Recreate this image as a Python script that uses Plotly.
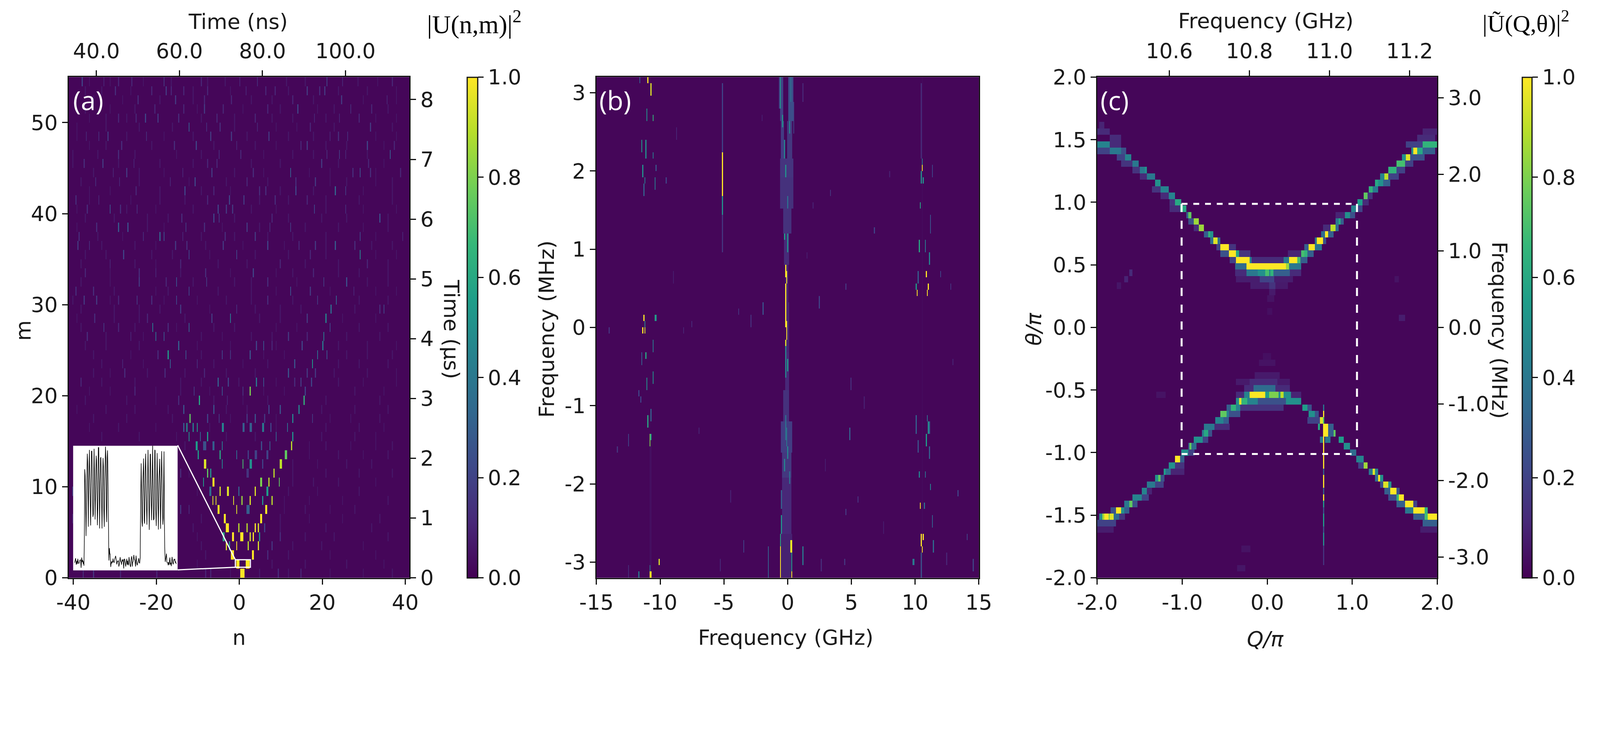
import numpy as np
import plotly.graph_objects as go

W, H = 5990, 1900

# ---- panel (a): |U(n,m)|^2 -- (row m, n from, n to, value)
a_peaks = [
    (0,.37,1.2,1),(1,-.86,.12,1),(1,1.44,2.5,1),(2,-1.9,-1.15,1),(2,2.9,3.5,1),
    (3,-3.2,-3,.95),(3,-2.4,-2.2,.5),(3,-.86,-.45,1),(3,1.93,2.3,.9),(3,4.5,4.7,.95),
    (4,-3.9,-3.4,.6),(4,-1.7,-1.15,1),(4,.37,.9,1),(4,2.46,2.67,.95),(4,3.2,3.45,1),(4,4.8,5,.5),
    (5,-3.2,-2.5,1),(5,-.2,.12,.9),(5,1.7,2.1,.9),(5,3.8,4,1),(5,4.5,4.7,.95),(5,6,6.3,.2),
    (6,-3.7,-3.2,1),(6,5,5.5,1),
    (7,-5.3,-4.7,1),(7,-.86,-.5,.95),(7,1.7,2.4,.3),(7,6.3,6.8,1),
    (8,-6.6,-6.3,.95),(8,-5.75,-5.5,.95),(8,-1.44,-1.2,.95),(8,.4,.86,.85),(8,2.46,2.67,.95),
    (8,5.5,5.75,.5),(8,7.7,8.1,.9),
    (9,-7.3,-6.8,.35),(9,-4.7,-4.5,.95),(9,-3,-2.6,.95),(9,3.8,4.07,.95),(9,6.6,7.07,.55),(9,-.1,.1,.3),
    (10,-8.8,-8.5,.55),(10,-6.5,-6,1),(10,5,5.4,.8),(10,7.07,7.3,.9),(10,9.45,9.8,.75),
    (11,-7.77,-7.56,.75),(11,-7,-6.8,.5),(11,8.3,8.6,.9),(11,1.7,2.2,.15),
    (12,-8.5,-8,.95),(12,-4.15,-3.9,.45),(12,.7,.9,.7),(12,2.55,3,.5),(12,9.66,10.15,.9),(12,5.5,5.7,.2),
    (13,-10,-9.66,.55),(13,-4.7,-4.5,.6),(13,11.1,11.4,.75),(13,-.8,-.6,.35),(13,1.9,2.3,.2),(13,3.8,4.3,.2),(13,6.5,7,.2),
    (14,-10.6,-10,.55),(14,-8.7,-8,.25),(14,-6.5,-5.9,.3),(14,-4.2,-4,.4),(14,5.4,5.6,.25),(14,7.2,7.4,.3),(14,12.4,12.7,.9),
    (15,-12.1,-11.9,.5),(15,-9.4,-9.2,.3),(15,-7.75,-7.6,.55),(15,8.7,8.9,.3),(15,12.75,12.95,.5),
    (16,-13.5,-13.2,.3),(16,-12.65,-12.45,.5),(16,-11.1,-10.9,.45),(16,-10.3,-10.15,.55),
    (16,-4.2,-3.8,.45),(16,.7,1.3,.3),(16,2.55,2.9,.3),(16,5.5,5.9,.4),(16,7.5,7.7,.2),(16,11.5,11.8,.35),
]
a_flecks = [
    (54,-37.9,.2),(54,-32.6,.1),(54,-29.2,.1),(54,-25.8,.1),(54,-18.2,.16),(54,-9.1,.1),(54,.1,.1),(54,4.4,.12),(54,21.2,.2),(54,24.9,.1),(54,36.9,.1),
    (53,-29.8,.12),(53,-21.1,.1),(53,-17.7,.16),(53,-16.4,.1),(53,-13.4,.1),(53,-7.5,.1),(53,1.6,.1),(53,6.3,.1),(53,8.7,.1),(53,16.5,.16),(53,19.4,.12),(53,20.7,.16),
    (52,-24.3,.12),(52,-15.4,.16),(52,-8.3,.1),(52,-1.8,.1),(52,12.9,.1),(52,24.6,.16),(52,35.6,.1),
    (51,-20.3,.1),(51,-13.3,.1),(51,-8.3,.16),(51,-3.9,.1),(51,6.9,.1),(51,14.2,.2),(51,27,.12),(51,32,.1),
    (50,-29,.1),(50,-24.8,.1),(50,-22.6,.2),(50,-19.6,.16),(50,-14.7,.12),(50,-5.4,.1),(50,4,.1),(50,18.1,.1),(50,24.1,.1),(50,28.8,.1),
    (49,-12.2,.28),(49,-7.9,.12),(49,-4.7,.12),(49,31.7,.16),(49,4.5,.1),(49,17.1,.1),
    (48,-36.8,.1),(48,-33.8,.12),(48,-31.5,.16),(48,-22.4,.12),(48,-6.8,.16),(48,-1.9,.16),(48,7.2,.16),(48,22,.1),(48,23.9,.12),(48,26.1,.12),
    (47,-28.4,.12),(47,-15.6,.12),(47,-10.3,.2),(47,-.5,.1),(47,15,.1),(47,16.5,.16),(47,30.9,.2),(47,37.5,.1),
    (46,-29.2,.12),(46,-4.9,.12),(46,.3,.1),(46,21.2,.12),(46,24.1,.16),(46,25.7,.1),(46,36.3,.28),
    (45,-37.3,.12),(45,-32.9,.16),(45,-25.3,.1),(45,-7.5,.1),(45,-5.4,.1),(45,19.9,.16),(45,31.2,.1),
    (44,-27.1,.16),(44,-30.3,.1),(44,-13.5,.1),(44,-6.7,.16),(44,3.5,.12),(44,12.3,.28),(44,29.1,.24),(44,27.3,.12),(44,31.7,.12),(44,39,.1),
    (43,-34.5,.12),(43,-28.9,.1),(43,-16.7,.1),(43,-10.7,.2),(43,1.9,.1),(43,18.4,.16),(43,13.7,.12),
    (42,-24.8,.1),(42,-13,.2),(42,-6.2,.1),(42,5,.12),(42,6.3,.12),(42,13.7,.2),(42,23.2,.32),(42,25.7,.16),
    (41,-39.4,.12),(41,-33.9,.1),(41,-7.5,.1),(41,-2.4,.2),(41,1.1,.16),(41,8.7,.12),(41,16.5,.1),
    (40,-36.6,.12),(40,-31.1,.24),(40,-28.7,.12),(40,-24.5,.12),(40,-5.2,.2),(40,-3.2,.16),(40,-1.7,.16),(40,18.2,.2),(40,25.7,.12),
    (39,-13.8,.12),(39,-6.2,.2),(39,-4.9,.16),(39,7.9,.1),(39,33.8,.24),
    (38,-29.2,.28),(38,-26.9,.24),(38,-34.3,.12),(38,-12.9,.16),(38,-8.3,.12),(38,1.9,.16),(38,7.4,.12),(38,12.3,.16),
    (37,-38.6,.12),(37,-23.1,.12),(37,-19,.32),(37,-18,.24),(37,-13.5,.1),(37,-3.3,.12),(37,3.9,.16),(37,29.1,.2),(37,39.3,.1),
    (36,-38.9,.16),(36,-36,.12),(36,-15.4,.16),(36,-12.5,.12),(36,-3.9,.16),(36,7,.2),(36,14.4,.1),(36,18.5,.16),(36,23.1,.28),(36,28,.12),
    (35,-27.9,.2),(35,-12.2,.2),(35,-.7,.2),(35,29.1,.45),(35,17.1,.1),
    (34,-31,.1),(34,-14,.1),(34,10,.1),(34,31,.1),
    (33,3.5,.2),(33,-24,.12),(33,-8.1,.12),(33,-20.1,.1),(33,-37,.1),(33,18,.1),
    (32,-24.2,.16),(32,-17.7,.1),(32,-15.2,.24),(32,-7.8,.16),(32,20.5,.16),(32,25.8,.24),(32,7,.12),
    (31,-39.4,.12),(31,-35.2,.12),(31,-12,.2),(31,12.5,.24),(31,17.2,.16),(31,27.6,.1),
    (30,-37.3,.16),(30,-34.3,.16),(30,-29,.1),(30,-24.7,.16),(30,-21,.12),(30,-15,.2),(30,18.9,.16),(30,23.5,.3),(30,7,.12),
    (29,-14.1,.16),(29,-.5,.12),(29,22.2,.35),(29,35,.2),(29,34,.12),
    (28,-2,.4),(28,16.5,.16),(28,20.9,.45),(28,-34.8,.12),(28,-6.7,.16),(28,-22,.1),
    (27,-32.5,.16),(27,-20.9,.4),(27,-12.1,.3),(27,-17,.12),(27,22,.2),(27,-29,.1),
    (26,-20.2,.35),(26,-18,.25),(26,-36.6,.12),(26,-26.1,.1),(26,20.5,.4),(26,12,.16),(26,16.5,.1),
    (25,-14.5,.3),(25,4.1,.2),(25,5.9,.25),(25,15.2,.2),(25,20.2,.4),(25,8,.1),
    (24,-17.2,.55),(24,-12.9,.25),(24,-4,.2),(24,-2,.16),(24,2.7,.25),(24,19,.35),(24,21.1,.25),(24,-19.6,.12),
    (23,-16.7,.3),(23,17.7,.55),(23,13.3,.25),(23,-10.1,.12),(23,-28,.1),
    (22,-8.3,.1),(22,12,.25),(22,18.4,.16),(22,16.4,.16),(22,-17.8,.12),(22,-27.5,.12),
    (21,-5.2,.3),(21,-2.6,.2),(21,4.1,.4),(21,5.9,.25),(21,17.3,.2),(21,14.8,.16),(21,13.4,.12),(21,-38,.1),
    (20,2.7,.8),(20,-4,.25),(20,-10.9,.16),(20,.8,.16),(20,16,.2),(20,-25,.1),
    (19,-9.5,.6),(19,15.6,.65),(19,-14.6,.12),(19,-2.8,.1),
    (18,-6.2,.25),(18,-13.3,.25),(18,7.1,.2),(18,9.9,.25),(18,14.3,.45),
    (17,-11.8,.75),(17,-7.5,.2),(17,-4.8,.16),(17,3.9,.25),(17,6.1,.16),(17,13,.45),(17,1.8,.16),(17,17.7,.16),
    (0,-37.7,.15),(0,-35.1,.15),(0,-28.5,.1),(0,-19.9,.1),(0,-8,.1),(0,-6.8,.1),(0,9.5,.12),(0,15,.1),
    (7,-14.2,.15),(7,-12,.12),(9,-40.1,.2),(5,-20,.12),(6,-40,.1),(3,8,.15),(4,10,.12),(2,7,.12),(11,-14,.12),
]
# faint streaks all over the panel -- (row m, n)
a_faint = [
    (54,-36),(54,-31),(54,-23),(54,-16.4),(54,-7.5),(54,-3.3),(54,11.3),(54,16),(54,28.6),(54,33.3),
    (53,-37),(53,-33),(53,-26),(53,-11),(53,-2),(53,12),(53,24),(53,31),(53,38),
    (52,-35),(52,-28),(52,-19),(52,-11),(52,3),(52,8),(52,18),(52,30),(52,38),
    (51,-37),(51,-31),(51,-25),(51,-10),(51,1),(51,10),(51,19),(51,23),(51,36),
    (50,-36),(50,-32),(50,-27),(50,-9),(50,-1),(50,8),(50,13),(50,21),(50,33),(50,38),
    (49,-39),(49,-32),(49,-24),(49,-16),(49,-1),(49,9),(49,14),(49,23),(49,37),
    (48,-39),(48,-27),(48,-18),(48,-11),(48,2),(48,12),(48,18),(48,33),(48,38),
    (47,-36),(47,-32),(47,-21),(47,-6),(47,4),(47,9),(47,21),(47,26),(47,35),
    (46,-40),(46,-34),(46,-25),(46,-15),(46,-9),(46,6),(46,13),(46,18),(46,31),
    (45,-40),(45,-29),(45,-19),(45,-11),(45,3),(45,10),(45,24),(45,35),
    (44,-35),(44,-24),(44,-18),(44,-1),(44,6),(44,17),(44,22),(44,33),
    (43,-38),(43,-24),(43,-12),(43,-3),(43,7),(43,22),(43,26),(43,33),(43,37),
    (42,-36),(42,-31),(42,-19),(42,-9),(42,-2),(42,10),(42,18),(42,30),(42,37),
    (41,-36),(41,-26),(41,-19),(41,-13),(41,5),(41,12),(41,21),(41,29),(41,37),
    (40,-39),(40,-27),(40,-20),(40,-11),(40,3),(40,9),(40,21),(40,30),(40,38),
    (39,-37),(39,-30),(39,-22),(39,-17),(39,-1),(39,12),(39,20),(39,26),(39,36),
    (38,-39),(38,-22),(38,-18),(38,-4),(38,5),(38,16),(38,24),(38,30),(38,36),
    (37,-34),(37,-28),(37,-9),(37,-1),(37,7),(37,13),(37,21),(37,33),
    (36,-33),(36,-25),(36,-20),(36,-8),(36,1),(36,11),(36,21),(36,32),(36,37),
    (35,-37),(35,-32),(35,-21),(35,-16),(35,-7),(35,4),(35,12),(35,21),(35,33),(35,38),
    (34,-38),(34,-25),(34,-20),(34,-5),(34,2),(34,16),(34,24),(34,36),
    (33,-31),(33,-14),(33,-2),(33,9),(33,13),(33,24),(33,29),(33,36),
    (32,-38),(32,-31),(32,-11),(32,-1),(32,3),(32,14),(32,31),(32,36),
    (31,-30),(31,-20),(31,-17),(31,-5),(31,3),(31,9),(31,22),(31,33),(31,38),
    (30,-40),(30,-31),(30,-18),(30,-10),(30,-3),(30,3),(30,13),(30,29),(30,36),
    (29,-38),(29,-30),(29,-24),(29,-19),(29,-7),(29,4),(29,10),(29,15),(29,28),
    (28,-39),(28,-30),(28,-24),(28,-13),(28,5),(28,10),(28,25),(28,33),
    (27,-38),(27,-25),(27,-15),(27,-6),(27,-1),(27,9),(27,14),(27,29),(27,36),
    (26,-32),(26,-23),(26,-9),(26,-4),(26,3),(26,8),(26,26),(26,34),
    (25,-37),(25,-32),(25,-24),(25,-10),(25,-2),(25,9),(25,24),(25,31),(25,38),
    (24,-35),(24,-26),(24,-9),(24,6),(24,11),(24,26),(24,31),(24,37),
    (23,-33),(23,-23),(23,-6),(23,1),(23,7),(23,24),(23,29),(23,36),
    (22,-35),(22,-31),(22,-22),(22,-13),(22,-3),(22,4),(22,23),(22,31),(22,38),
    (21,-33),(21,-25),(21,-14),(21,-9),(21,0),(21,9),(21,24),(21,30),(21,38),
    (20,-36),(20,-31),(20,-20),(20,-14),(20,-7),(20,6),(20,11),(20,28),(20,35),
    (19,-37),(19,-27),(19,-20),(19,-6),(19,1),(19,7),(19,21),(19,34),
    (18,-39),(18,-32),(18,-25),(18,-17),(18,-3),(18,2),(18,20),(18,28),(18,36),
    (17,-35),(17,-27),(17,-16),(17,-2),(17,9),(17,22),(17,27),(17,34),
    (16,-36),(16,-29),(16,-20),(16,-7),(16,9),(16,21),(16,29),(16,35),
    (15,-33),(15,-24),(15,-15),(15,-3),(15,4),(15,20),(15,28),(15,33),
    (14,17),(14,21),(14,27),(14,33),(14,37),(14,-13),(13,17),(13,24),(13,30),(13,36),
    (12,13),(12,19),(12,26),(12,32),(11,-12),(11,13),(11,21),(11,29),(11,37),
    (10,13),(10,18),(10,24),(10,33),(9,-10),(9,12),(9,19),(9,29),(8,11),(8,17),(8,25),(8,36),
    (7,11),(7,16),(7,22),(7,28),(6,-9),(6,10),(6,17),(6,25),(6,34),(5,-11),(5,10),(5,21),(5,32),
    (4,-10),(4,16),(4,23),(4,36),(3,-9),(3,13),(3,20),(3,30),(2,-8),(2,12),(2,22),(2,33),
    (1,-10),(1,8),(1,16),(1,26),(1,35),(0,-2),(0,5),(0,12),(0,22),(0,30),(0,37),
]

# ---- panel (b): spectrum -- (frequency GHz, MHz from, MHz to, value)
b_segments = [
    (-10.95,3.11,3.18,1),(-10.7,3,3.1,.95),(-11.6,3.1,3.2,.3),(-11.03,2.67,2.77,.5),(-10.6,2.6,2.68,.65),
    (-11.42,2.27,2.4,.55),(-11.1,2.17,2.37,.5),(-10.54,2.16,2.28,.4),(-11.37,1.91,2.07,.5),(-11.2,1.83,1.93,.4),
    (-11.3,1.68,1.83,.3),(-10.4,1.75,1.93,.4),(-10.33,2,2.07,.25),
    (-11.3,.07,.19,1),(-11.37,-.09,0,1),(-11.2,-.09,0,.95),(-10.4,.06,.17,.6),(-10.32,.06,.17,.5),(-11.2,0,.12,.45),
    (-10.54,-.34,-.2,.4),(-11.1,-.43,-.32,.6),(-11.42,-.5,-.35,.3),(-10.6,-.75,-.6,.5),(-11.03,-.84,-.68,.5),(-11.5,-.95,-.86,.2),
    (-10.95,-1.26,-1.16,.6),(-10.7,-1.2,-1,.3),(-10.82,-1.52,-1.35,.8),(-10.74,-1.45,-1.35,.5),
    (-10.1,-3.03,-2.95,.95),(-10.8,-3.2,-3.1,1),(-10.72,-3.2,-3.1,1),(-10.8,-3.1,-3.03,.35),(-11.7,-3.18,-3.1,.4),
    (-5.14,1.68,2.28,1),(-5.14,1.47,1.68,.5),(-5.14,2.28,3.1,.2),(-5.14,1,1.47,.15),
    (-.57,-3.2,-2.78,1),(-.57,-2.78,-2.62,.6),(-.47,-2.6,-2.44,.5),
    (.31,-2.87,-2.69,1),(.23,-2.87,-2.69,.95),(.31,-3.1,-2.87,.55),(.31,-3.2,-3.1,1),
    (-.55,2.8,3.18,.55),(-.63,2.8,3.18,.2),(.23,2.85,3.18,.35),(.31,2.85,3.18,.25),(.45,2.5,2.85,.2),
    (-.42,2.55,2.7,.5),(.13,2.47,2.62,.45),(-.28,2.17,2.4,.45),(-.15,1.95,2.1,.5),(0,1.5,1.71,.35),
    (-.26,1.1,1.2,.55),(0,.97,1.18,.5),
    (-.2,.66,.83,1),(-.08,.58,.75,1),(-.15,0,.58,1),(-.07,-.17,.12,1),(-.2,-.26,-.17,.95),(-.05,-.17,-.05,1),
    (-.15,-.62,-.26,.45),(0,-.53,-.42,.55),(-.2,-1.43,-1.13,.35),(-.07,-1.49,-1.25,.4),(0,-1.7,-1.52,.45),
    (-.28,-1.8,-1.65,.45),(.13,-2.03,-1.85,.35),(-.52,-2.33,-2.09,.3),
    (10.56,2.01,2.1,1),(10.48,1.83,2,.5),(10.64,1.83,1.95,.5),(10.56,2.1,2.2,.4),(10.38,1.5,1.6,.6),(10.48,2.2,3.1,.12),
    (10.36,1,1.16,.6),(10.8,1,1.16,.4),(11.24,1.17,1.44,.25),(11.13,.81,.92,.45),(10.9,.66,.75,1),
    (10.25,.58,.75,.3),(10.07,.49,.57,.55),(10.15,.41,.49,1),(11.05,.49,.57,1),(11,.41,.49,1),
    (11,-1.22,-1.1,.35),(11.03,-1.36,-1.22,.5),(11.1,-1.36,-1.22,.3),(10.12,-1.36,-1.16,.3),(10.87,-1.52,-1.36,.55),(10.25,-1.62,-1.43,.25),(11.13,-1.67,-1.52,.3),
    (10.36,-1.95,-1.85,.45),(10.8,-1.95,-1.85,.35),(11.24,-2.1,-2.02,.45),(10.4,-2.36,-2.28,1),(10.72,-2.36,-2.2,.35),
    (10.5,-2.78,-2.63,1),(10.67,-2.69,-2.63,1),(10.56,-2.87,-2.78,1),(10.5,-3.2,-2.87,.25),(11.33,-2.55,-2.4,.3),(11.45,-2.87,-2.69,.35),(9.86,-3.03,-2.95,.4),(9.94,-3.03,-2.95,.4),
    (1.17,-3.05,-2.84,.4),(-1.5,-3.18,-2.84,.3),(4.85,-1.43,-1.28,.3),(-1.9,.15,.33,.25),
]
# (GHz from, GHz to, MHz from, MHz to, value) - the wide central glow
b_glow = [
    (-.62,-.4,2.6,3.2,.2),(.08,.42,2.6,3.2,.24),(-.55,-.3,2.2,2.6,.18),(0,.35,2.2,2.6,.16),(-.6,-.05,1.9,2.2,.15),(0,.4,1.9,2.2,.15),
    (-.62,.42,1.5,1.9,.14),(-.35,.25,1.2,1.5,.14),(-.25,.1,.8,1.2,.12),(-.2,.05,.3,.8,.1),(-.15,.1,-.3,.3,.1),(-.2,.1,-.8,-.3,.11),
    (-.35,.15,-1.2,-.8,.14),(-.55,.35,-1.6,-1.2,.18),(-.45,.3,-1.9,-1.6,.16),(-.45,.3,-2.6,-1.9,.11),(-.55,.35,-3.2,-2.6,.09),
    (-10.85,-10.65,-3.2,-1.5,.04),(10.5,10.62,-3.2,3.2,.03),
]
b_flecks = [
    (-12.5,-3.2,-3,.12),(2.5,.25,.43,.2),(6.8,1.17,1.26,.2),(3.4,1.68,1.75,.15),(13.4,-2.18,-2.09,.2),(14.1,-2.69,-2.63,.2),
    (14.6,-3.08,-2.96,.2),(4.6,-2.42,-2.3,.15),(5.5,-2.24,-2.12,.12),(5,-.83,-.65,.12),(4.6,.49,.57,.15),(12,.66,.75,.2),
    (12.8,.49,.57,.15),(11.4,1.95,2.1,.2),(-3.84,.15,.25,.15),(-2.9,0,.15,.12),(-7.5,0,.1,.12),(-8.2,-.08,.02,.1),
    (-8.7,2.4,2.55,.1),(-9.5,1.83,1.93,.2),(-13.4,-1.64,-1.55,.15),(-14,-.08,0,.15),(-12.5,-1.5,-1.4,.2),(-11.7,-.9,-.82,.2),
    (-5.3,-3.1,-2.93,.12),(-3.45,-2.87,-2.69,.2),(2.65,-3.13,-2.95,.12),(4.46,-3.05,-2.95,.15),(12.5,-3.05,-2.9,.1),
    (-4.5,-2.2,-2.05,.08),(-7,-1.4,-1.3,.08),(7.5,-2.6,-2.45,.08),(8,1.9,2,.08),(2,1.5,1.6,.08),(-2,2.6,2.7,.08),
    (-9,.6,.7,.08),(13,-.5,-.4,.08),(6,-1,-.9,.08),(3,-1.8,-1.7,.08),(1.2,2.9,3.1,.1),(1.5,.9,1,.08),
]

# ---- panel (c): bands -- (theta/pi, Q/pi from, Q/pi to, value)
c_upper = [
    (1.56,-2,-1.85,.12),(1.51,-1.85,-1.72,.12),(1.51,1.77,1.98,.12),(1.56,1.83,2,.1),
    (1.46,-2,-1.85,.45),(1.46,1.83,2,.65),(1.46,1.64,1.83,.2),(1.46,-1.85,-1.72,.12),
    (1.41,-2,-1.85,.2),(1.41,-1.85,-1.72,.4),(1.41,-1.72,-1.66,.25),(1.41,1.69,1.72,.5),(1.41,1.72,1.77,1),(1.41,1.77,1.83,.6),(1.41,1.83,1.98,.3),
    (1.36,-1.77,-1.67,.2),(1.36,-1.67,-1.6,.45),(1.36,1.58,1.64,.5),(1.36,1.64,1.68,.95),(1.36,1.68,1.85,.25),
    (1.305,-1.72,-1.58,.15),(1.305,-1.58,-1.51,.4),(1.305,1.52,1.62,.7),(1.305,1.62,1.72,.2),
    (1.253,-1.58,-1.5,.15),(1.253,-1.5,-1.44,.4),(1.253,-1.44,-1.41,.5),(1.253,1.43,1.52,.65),(1.253,1.52,1.62,.2),
    (1.204,-1.41,-1.32,.4),(1.204,-1.5,-1.41,.12),(1.204,1.33,1.38,.45),(1.204,1.38,1.43,.9),(1.204,1.43,1.55,.2),
    (1.155,-1.32,-1.26,.5),(1.155,1.27,1.31,.6),(1.155,1.31,1.37,.5),(1.155,1.37,1.45,.3),
    (1.104,-1.26,-1.16,.45),(1.104,-1.35,-1.26,.15),(1.104,1.2,1.24,.65),(1.104,1.24,1.31,.4),
    (1.048,-1.16,-1.09,.45),(1.048,-1.25,-1.16,.12),(1.048,1.14,1.18,.75),(1.048,1.18,1.25,.15),
    (.998,-1.08,-1.01,.6),(.998,-1.15,-1.08,.15),(.998,1.06,1.12,.55),(.998,1.12,1.2,.12),
    (.948,-1.02,-.95,.6),(.948,-1.15,-1.02,.12),(.948,.99,1.05,.45),(.948,1.05,1.12,.2),
    (.898,-.95,-.93,.3),(.898,-.93,-.89,.75),(.898,.92,.97,.5),(.898,.97,1.04,.25),(.898,.8,.92,.1),
    (.847,-.86,-.8,.85),(.847,-.93,-.86,.25),(.847,.81,.84,.4),(.847,.84,.87,.6),(.847,.87,.9,.3),
    (.794,-.8,-.74,.85),(.794,-.86,-.8,.12),(.794,.74,.81,.9),(.794,.81,.84,.35),(.794,.66,.74,.12),
    (.743,-.7,-.67,.65),(.743,-.67,-.64,.5),(.743,-.74,-.7,.3),(.743,.68,.72,1),(.743,.63,.68,.35),(.743,.72,.78,.3),
    (.692,-.64,-.58,.95),(.692,-.67,-.64,.35),(.692,-.58,-.55,.35),(.692,.59,.66,1),(.692,.56,.59,.4),(.692,.66,.7,.25),
    (.637,-.55,-.45,1),(.637,-.6,-.55,.2),(.637,-.45,-.37,.15),(.637,.49,.56,1),(.637,.44,.49,.3),(.637,.56,.65,.4),
    (.587,-.45,-.36,1),(.587,-.36,-.33,.6),(.587,-.55,-.45,.25),(.587,-.33,-.19,.15),(.587,.4,.44,.7),(.587,.44,.47,.65),(.587,.47,.55,.3),(.587,.25,.4,.1),
    (.537,-.37,-.21,1),(.537,-.44,-.37,.2),(.537,-.21,-.18,.45),(.537,.19,.26,.4),(.537,.26,.35,1),(.537,.35,.39,.7),(.537,.39,.47,.3),(.537,-.18,.19,.12),
    (.486,-.24,.22,1),(.486,.22,.26,.85),(.486,-.38,-.24,.35),(.486,.26,.4,.4),
    (.437,-.24,-.11,.4),(.437,-.11,-.02,.5),(.437,-.02,.02,.7),(.437,.02,.04,.45),(.437,.04,.07,.65),(.437,.07,.27,.3),(.437,-.38,-.24,.12),(.437,.27,.4,.12),
    (.383,-.09,.08,.2),(.383,-.37,-.09,.08),(.383,.08,.3,.08),(.328,.02,.1,.15),(.328,-.2,.02,.08),(.328,.1,.25,.07),
    (.27,.02,.1,.07),(.21,0,.08,.05),(.15,0,.06,.04),
    (-.23,-.05,.05,.04),(-.3,-.1,.1,.05),(-.37,-.15,.15,.07),
]
c_lower = [
    (-.44,-.21,.12,.12),(-.44,-.36,-.21,.07),(-.44,.12,.27,.07),
    (-.488,-.16,.1,.35),(-.488,-.27,-.16,.12),(-.488,.1,.27,.12),
    (-.543,-.21,-.02,1),(-.543,-.02,.02,.55),(-.543,.02,.13,.8),(-.543,.13,.16,.5),(-.543,.16,.19,.9),(-.543,.19,.28,.5),
    (-.543,-.27,-.21,.45),(-.543,-.37,-.27,.12),(-.543,.28,.4,.1),
    (-.593,-.36,-.33,.5),(-.593,-.33,-.3,.95),(-.593,-.3,-.23,.65),(-.593,-.23,-.11,.45),(-.593,-.11,.22,.25),(-.593,.22,.4,.5),
    (-.643,-.48,-.43,.3),(-.643,-.43,-.36,.65),(-.643,-.36,-.32,.45),(-.643,-.32,.19,.15),(-.643,.41,.47,.55),(-.643,.47,.53,.25),
    (-.694,-.55,-.48,.75),(-.694,-.48,-.45,.45),(-.694,-.45,-.32,.25),(-.694,.49,.56,.5),(-.694,.56,.61,.25),
    (-.743,-.61,-.51,.45),(-.743,-.51,-.45,.3),(-.743,.62,.66,.95),(-.743,.47,.62,.2),
    (-.799,-.74,-.62,.4),(-.799,-.62,-.44,.12),(-.799,.6,.62,.6),(-.799,.66,.72,1),(-.799,.72,.78,.3),
    (-.849,-.77,-.74,.4),(-.849,-.74,-.7,.6),(-.849,-.7,-.65,.25),(-.849,.66,.72,1),(-.849,.72,.78,.3),(-.849,.78,.81,.75),
    (-.9,-.86,-.76,.5),(-.9,-.76,-.7,.2),(-.9,.62,.66,.4),(-.9,.68,.74,.4),(-.9,.84,.9,.55),
    (-.954,-.92,-.89,.75),(-.954,-.89,-.83,.35),(-.954,-.93,-.92,.3),(-.954,.9,.97,.5),
    (-1.005,-1.01,-.93,.5),(-1.005,-.93,-.85,.2),(-1.005,.97,1.05,.35),
    (-1.055,-1.08,-1.03,1),(-1.055,-1.03,-.97,.3),(-1.055,1.05,1.14,.45),
    (-1.106,-1.16,-1.09,.5),(-1.106,-1.09,-.98,.15),(-1.106,1.14,1.18,.85),(-1.106,1.07,1.14,.2),
    (-1.157,-1.22,-1.2,.55),(-1.157,-1.2,-1.14,.35),(-1.157,-1.14,-.98,.1),(-1.157,1.24,1.27,.95),(-1.157,1.19,1.24,.4),(-1.157,1.27,1.3,.45),
    (-1.21,-1.32,-1.28,.5),(-1.21,-1.28,-1.26,.75),(-1.21,-1.26,-1.21,.25),(-1.21,1.3,1.33,1),(-1.21,1.27,1.3,.35),(-1.21,1.33,1.36,.5),
    (-1.262,-1.41,-1.32,.4),(-1.262,-1.32,-1.22,.2),(-1.262,1.37,1.43,.95),(-1.262,1.43,1.46,.5),(-1.262,1.33,1.37,.25),
    (-1.313,-1.47,-1.41,.45),(-1.313,-1.41,-1.35,.1),(-1.313,1.45,1.52,1),(-1.313,1.38,1.45,.3),(-1.313,1.52,1.56,.25),
    (-1.363,-1.58,-1.47,.45),(-1.363,-1.47,-1.39,.2),(-1.363,1.55,1.61,1),(-1.363,1.52,1.55,.65),(-1.363,1.43,1.52,.25),
    (-1.412,-1.68,-1.62,.4),(-1.412,-1.62,-1.59,.75),(-1.412,-1.59,-1.52,.25),(-1.412,1.62,1.72,1),(-1.412,1.52,1.62,.3),(-1.412,1.72,1.77,.2),
    (-1.468,-1.78,-1.72,1),(-1.468,-1.72,-1.68,.5),(-1.468,-1.68,-1.62,.3),(-1.468,-1.84,-1.78,.25),(-1.468,1.72,1.85,1),(-1.468,1.85,1.89,.65),(-1.468,1.62,1.72,.4),
    (-1.518,-1.97,-1.94,.5),(-1.518,-1.94,-1.91,.85),(-1.518,-1.91,-1.87,1),(-1.518,-1.87,-1.85,.8),(-1.518,-1.85,-1.81,.95),(-1.518,-1.81,-1.74,.35),(-1.518,-1.74,-1.67,.15),
    (-1.518,1.89,2,1),(-1.518,1.85,1.89,.7),(-1.518,1.72,1.85,.3),
    (-1.569,-2,-1.78,.2),(-1.569,1.83,2,.3),(-1.62,-2,-1.81,.08),(-1.62,1.8,2,.08),
]
# sharp line near Q/pi = 0.67 -- (theta/pi from, theta/pi to, value)
c_spike_q = .667
c_spike = [
    (-.67,-.62,.4),(-.72,-.67,1),(-.77,-.72,.7),(-1.13,-.77,1),(-1.18,-1.13,.3),(-1.29,-1.18,1),(-1.34,-1.29,.3),
    (-1.38,-1.34,1),(-1.44,-1.38,.55),(-1.49,-1.44,.25),(-1.6,-1.49,.55),(-1.65,-1.6,.25),(-1.72,-1.65,.5),(-1.91,-1.72,.15),
]
c_flecks = [
    (.45,-1.62,-1.58,.12),(.4,-1.68,-1.64,.1),(.35,-1.77,-1.72,.06),(.41,1.5,1.55,.05),
    (-.55,-1.3,-1.2,.05),(-1.75,-.3,-.2,.05),(-1.9,-.35,-.25,.06),(1.55,-1.95,-1.85,.12),(1.6,-1.98,-1.92,.1),(.1,1.55,1.62,.08),
]

# inset: sampled trace (time a.u., level a.u.)
inset_t = [28,38,46,53,57,63,70,78,85,95,100,107,113,118,124,128,132,135,138,141,146,150,156,161,165,170,174,178,181,186,190,194,198,203,208,213,217,222,227,233,238,242,246,250,254,258,262,270,274,279,284,288,294,299,304,309,314,319,323,329,336,341,347,352,356,361,366,375,380,384,389,394,398,402,406,410,413,419,424,427,431,434,438,443,447,451,455,460,464,472,480,489,497,502,510,516,520,525,532,540,546,552,556,562,567,574,580,586,592,597,603,608,615,620,625,630,635,640,645,650,658,663,671,677,682,687,694,700,706,714,719,726,732,738,744,750,754,760,766,770,774,777,781,786,791,796,804,808,812,816,822,828,834,842,847,854,860,868,873,878,882,888,895,900,906,910,916,922,926,930,934,940,947,952,957,962,971,976,983,986,990,996,1001,1008,1013,1021,1026,1030,1034,1038,1042,1048,1055,1062,1066,1075,1082,1085,1092,1100,1106,1112,1116,1125,1132,1138,1145,1152,1155,1162,1165,1171]
inset_level = [60,95,45,75,50,90,55,57,78,82,20,100,65,80,50,70,37,145,375,785,735,475,267,575,795,905,845,475,339,675,875,935,725,455,349,675,925,925,625,415,435,795,943,795,495,395,575,890,855,575,350,475,953,953,625,325,675,870,878,555,325,625,872,805,475,338,675,960,855,475,375,875,931,775,475,175,77,173,125,130,55,27,50,70,55,70,63,92,70,60,90,113,80,47,72,70,77,30,50,103,70,65,45,85,70,85,15,90,85,50,30,60,90,45,75,40,50,103,80,45,27,85,110,30,65,70,120,85,80,30,115,60,40,55,75,95,60,57,95,475,775,830,625,375,340,675,868,675,385,363,775,905,575,355,675,935,675,315,575,900,903,575,390,675,975,675,390,400,725,935,930,475,345,675,910,675,317,675,860,865,585,323,675,925,675,355,405,775,923,475,175,67,105,130,65,60,40,65,45,100,45,60,33,105,60,47,85,80,90,60,70,50]

# axis ticks
a_x_ticks = [-40,-20,0,20,40]
a_y_ticks = [0,10,20,30,40,50]
a_top_ticks = [40,60,80,100]
a_right_ticks = [0,1,2,3,4,5,6,7,8]
b_x_ticks = [-15,-10,-5,0,5,10,15]
b_y_ticks = [-3,-2,-1,0,1,2,3]
c_x_ticks = [-2,-1,0,1,2]
c_y_ticks = [-2,-1.5,-1,-.5,0,.5,1,1.5,2]
c_top_ticks = [10.6,10.8,11.0,11.2]
c_right_ticks = [-3,-2,-1,0,1,2,3]
cbar_ticks = [0,.2,.4,.6,.8,1]

FLOOR = .015
FAINT = .06


def paint(z, xc, yc, x0, x1, y0, y1, v):
    cols = np.where((xc >= x0) & (xc < x1))[0]
    if len(cols) == 0:
        cols = [np.argmin(abs(xc - (x0 + x1) / 2))]
    rows = np.where((yc >= y0) & (yc < y1))[0]
    if len(rows) == 0:
        rows = [np.argmin(abs(yc - (y0 + y1) / 2))]
    for r in rows:
        for c in cols:
            z[r, c] = max(z[r, c], v)


# panel a grid
a_x = -41 + .125 + np.arange(328) * .25
a_y = np.arange(55) + .5
a_z = np.full((55, 328), FLOOR)
for m, n in a_faint:
    paint(a_z, a_x, a_y, n, n, m, m + 1, FAINT)
for m, n0, n1, v in a_peaks:
    paint(a_z, a_x, a_y, n0, n1, m, m + 1, v)
for m, n, v in a_flecks:
    paint(a_z, a_x, a_y, n, n, m, m + 1, v)

# panel b grid
b_x = -15 + .04 + np.arange(375) * .08
b_y = -3.2 + .04 + np.arange(80) * .08
b_z = np.full((80, 375), FLOOR)
for f0, f1, y0, y1, v in b_glow:
    paint(b_z, b_x, b_y, f0, f1, y0, y1, v)
for f, y0, y1, v in b_segments + b_flecks:
    paint(b_z, b_x, b_y, f, f, y0, y1, v)

# panel c grid
c_x = -2 + 4 / 656 + np.arange(328) * 4 / 328
c_y = -2 + 2 / 78 + np.arange(78) * 4 / 78
c_z = np.full((78, 328), FLOOR)
for th, q0, q1, v in c_upper + c_lower:
    paint(c_z, c_x, c_y, q0, q1, th, th, v)
for th, q0, q1, v in c_flecks:
    paint(c_z, c_x, c_y, q0, q1, th, th, v)
for y0, y1, v in c_spike:
    paint(c_z, c_x, c_y, c_spike_q - .008, c_spike_q + .008, y0, y1, v)


# layout positions are given in reference pixels and turned into page fractions
def fx(px):
    return px / W


def fy(py):
    return 1 - py / H


TICK_FONT = dict(family="DejaVu Sans", size=54, color="#1a1a1a")
TOP, BOTTOM = 191, 1484


def axis(left, right, rng, ticks, text, **kw):
    return dict(
        domain=[fx(left), fx(right)], range=rng, tickmode="array", tickvals=ticks, ticktext=text,
        ticks="outside", ticklen=14, tickwidth=3, tickcolor="#111", tickfont=TICK_FONT,
        showline=True, linewidth=3, linecolor="#111", showgrid=False, zeroline=False, **kw)


def yaxis(rng, ticks, text, **kw):
    d = axis(0, 0, rng, ticks, text, **kw)
    d["domain"] = [fy(BOTTOM), fy(TOP)]
    return d


def fmt(vals, pattern="{:g}"):
    return [pattern.format(v) for v in vals]


def cbar(x_px, thick):
    return dict(x=fx(x_px), xanchor="left", xpad=0, ypad=0, y=fy(BOTTOM), yanchor="bottom",
                len=(BOTTOM - TOP) / H, lenmode="fraction", thickness=thick / W, thicknessmode="fraction",
                tickmode="array", tickvals=cbar_ticks, ticktext=fmt(cbar_ticks, "{:.1f}"),
                ticks="outside", ticklen=14, tickwidth=3, tickcolor="#111", tickfont=TICK_FONT,
                outlinewidth=3, outlinecolor="#111")


fig = go.Figure()
fig.add_trace(go.Heatmap(x=a_x, y=a_y, z=a_z, colorscale="Viridis", zmin=0, zmax=1,
                         colorbar=cbar(1744, 39), xaxis="x", yaxis="y"))
fig.add_trace(go.Heatmap(x=b_x, y=b_y, z=b_z, colorscale="Viridis", zmin=0, zmax=1,
                         showscale=False, xaxis="x3", yaxis="y3"))
fig.add_trace(go.Heatmap(x=c_x, y=c_y, z=c_z, colorscale="Viridis", zmin=0, zmax=1,
                         colorbar=cbar(5709, 37), xaxis="x4", yaxis="y4"))
# empty helpers so the twin axes get drawn
fig.add_trace(go.Scatter(x=a_top_ticks, y=a_right_ticks[:4], mode="markers", opacity=0, xaxis="x2", yaxis="y2",
                         showlegend=False, hoverinfo="skip"))
fig.add_trace(go.Scatter(x=c_top_ticks, y=c_right_ticks[:4], mode="markers", opacity=0, xaxis="x5", yaxis="y5",
                         showlegend=False, hoverinfo="skip"))
fig.add_trace(go.Scatter(x=inset_t, y=inset_level, mode="lines", line=dict(color="black", width=1.5),
                         xaxis="x6", yaxis="y6", showlegend=False, cliponaxis=False))

fig.update_layout(
    margin=dict(l=0, r=0, t=0, b=0, autoexpand=False), paper_bgcolor="white", plot_bgcolor="#440154",
    showlegend=False,
    xaxis=axis(246, 1527, [-41.15, 41.0], a_x_ticks, fmt(a_x_ticks), anchor="y"),
    yaxis=yaxis([0, 55], a_y_ticks, fmt(a_y_ticks), anchor="x"),
    xaxis2=axis(246, 1527, [33.3, 115.4], a_top_ticks, fmt(a_top_ticks, "{:.1f}"), anchor="y2", side="top", overlaying="x", ticklabelstandoff=10),
    yaxis2=yaxis([0, 8.376], a_right_ticks, fmt(a_right_ticks), anchor="x2", side="right", overlaying="y"),
    xaxis3=axis(2230, 3667, [-15, 15], b_x_ticks, fmt(b_x_ticks), anchor="y3", mirror=True),
    yaxis3=yaxis([-3.2, 3.2], b_y_ticks, fmt(b_y_ticks), anchor="x3", mirror=True),
    xaxis4=axis(4112, 5390, [-2, 2], c_x_ticks, fmt(c_x_ticks, "{:.1f}"), anchor="y4"),
    yaxis4=yaxis([-2, 2], c_y_ticks, fmt(c_y_ticks, "{:.1f}"), anchor="x4"),
    xaxis5=axis(4112, 5390, [10.42, 11.269], c_top_ticks, fmt(c_top_ticks, "{:.1f}"), anchor="y5", side="top", overlaying="x4", ticklabelstandoff=10),
    yaxis5=yaxis([-3.27, 3.27], c_right_ticks, fmt(c_right_ticks, "{:.1f}"), anchor="x5", side="right", overlaying="y4"),
    xaxis6=dict(domain=[fx(263), fx(656)], range=[10, 1188], visible=False, anchor="y6", tickvals=[]),
    yaxis6=dict(domain=[fy(1465), fy(1143)], range=[0, 967], visible=False, anchor="x6", tickvals=[]),
)

white = dict(color="white", width=3)
dash_h = dict(color="white", width=5, dash="15px,15px")
dash_v = dict(color="white", width=5, dash="21px,22px")
guide = dict(type="line", xref="x4", yref="y4", layer="above")
fig.update_layout(shapes=[
    dict(type="rect", xref="x6", yref="y6", x0=10, x1=1188, y0=0, y1=967, fillcolor="white", line=dict(width=0), layer="below"),
    # zoom box and its leaders on the heatmap
    dict(type="rect", xref="x", yref="y", x0=-.95, x1=2.67, y0=1.16, y1=1.98, line=white, layer="above"),
    dict(type="line", xref="x", yref="y", x0=-14.85, y0=14.56, x1=-.95, y1=1.98, line=white, layer="above"),
    dict(type="line", xref="x", yref="y", x0=-14.85, y0=.87, x1=-.95, y1=1.16, line=white, layer="above"),
    # dashed guide box in panel c
    dict(guide, x0=-1.007, x1=1.056, y0=.987, y1=.987, line=dash_h),
    dict(guide, x0=-1.007, x1=1.056, y0=-1.011, y1=-1.011, line=dash_h),
    dict(guide, x0=-1.007, x1=-1.007, y0=.987, y1=-1.011, line=dash_v),
    dict(guide, x0=1.056, x1=1.056, y0=.987, y1=-1.011, line=dash_v),
])


def label(text, x, y, size=54, angle=0, family="DejaVu Sans", color="#1a1a1a", italic=False):
    if italic:
        text = f"<i>{text}</i>"
    return dict(text=text, x=fx(x), y=fy(y), xref="paper", yref="paper", showarrow=False, xanchor="center", yanchor="middle",
                textangle=angle, font=dict(family=family, size=size, color=color))


fig.update_layout(annotations=[
    label("Time (ns)", 883, 48),
    label("n", 887, 1638),
    label("m", 76, 845, angle=-90),
    label("Time (μs)", 1684, 842, angle=90),
    label("|U(n,m)|<sup>2</sup>", 1770, 50, size=66, family="Liberation Serif", color="black"),
    label("(a)", 320, 250, size=68, family="Open Sans", color="white"),
    label("(b)", 2300, 250, size=68, family="Open Sans", color="white"),
    label("(c)", 4177, 250, size=68, family="Open Sans", color="white"),
    label("Frequency (GHz)", 2942, 1638),
    label("Frequency (MHz)", 2043, 842, angle=-90),
    label("Frequency (GHz)", 4746, 46),
    label("Q/π", 4744, 1642, italic=True),
    label("θ/π", 3875, 842, angle=-90, italic=True),
    label("Frequency (MHz)", 5623, 845, angle=90),
    label("|Ũ(Q,θ)|<sup>2</sup>", 5724, 48, size=62, family="Liberation Serif", color="black"),
])

fig.write_html("out.html")
